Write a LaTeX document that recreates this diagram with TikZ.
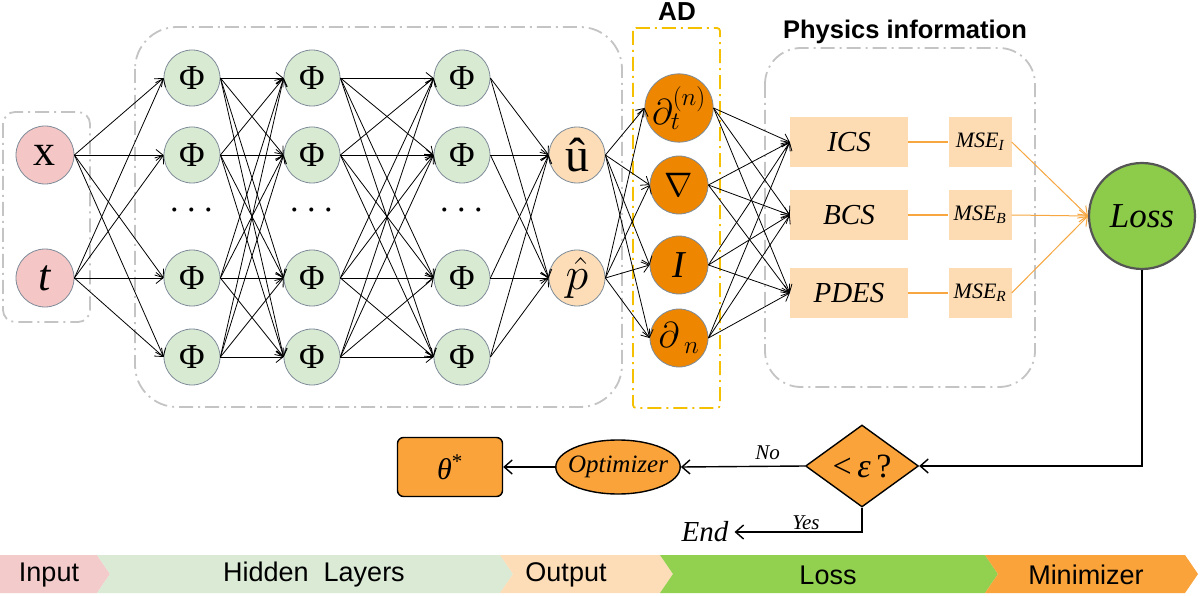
\RequirePackage{fix-cm}
\documentclass[tikz,border=0pt]{standalone}
\usepackage{fontspec}
\setmainfont{Liberation Serif}
\setsansfont{Liberation Sans}
\usetikzlibrary{arrows.meta,shapes.geometric}
\newcommand\fs[1]{\fontsize{#1}{#1}\selectfont}
\definecolor{inpink}{HTML}{F4C6C6}
\definecolor{hidgreen}{HTML}{D9EAD3}
\definecolor{outpeach}{HTML}{FCDDB7}
\definecolor{adorange}{HTML}{EE8600}
\definecolor{lossgreen}{HTML}{8DCB4A}
\definecolor{minorange}{HTML}{F9A33A}
\definecolor{boxgray}{HTML}{C4C4C4}
\definecolor{adyellow}{HTML}{F5C000}
\definecolor{physpeach}{HTML}{FDDCB4}
\definecolor{lineorange}{HTML}{F7A640}
\definecolor{barpink}{HTML}{F3CBCB}
\definecolor{bargreen}{HTML}{DAEAD5}
\definecolor{barpeach}{HTML}{FDDDB8}
\definecolor{barlgreen}{HTML}{92D050}
\definecolor{barorange}{HTML}{F9A33A}
\definecolor{nodeedge}{HTML}{7F8C99}
\begin{document}
\begin{tikzpicture}[x=1pt,y=-1pt,
  groupbox/.style={draw=boxgray, line width=1.8, dash pattern=on 14pt off 5pt on 2pt off 5pt},
  innode/.style={circle, draw=nodeedge, fill=inpink, minimum size=58, inner sep=0, line width=0.8, font=\fs{44}},
  phinode/.style={circle, draw=nodeedge, fill=hidgreen, minimum size=56, inner sep=0, line width=0.8, font=\fs{35}},
  outnode/.style={circle, draw=nodeedge, fill=outpeach, minimum size=56, inner sep=0, line width=0.8, font=\fs{34}},
  adnode/.style={circle, draw=nodeedge, fill=adorange, minimum size=58, inner sep=0, line width=0.8, font=\fs{30}},
  physbox/.style={fill=physpeach, minimum width=118, minimum height=50, inner sep=0, font=\fs{29}\itshape},
  msebox/.style={fill=physpeach, minimum width=63, minimum height=50, inner sep=0, font=\fs{22}\itshape},
  conn/.style={-{Straight Barb[length=7,width=11]}, line width=0.8},
  flow/.style={-{Straight Barb[length=8,width=14]}, line width=1.4},
  oline/.style={draw=lineorange, line width=1.6},
  oarrow/.style={draw=lineorange, line width=1, -{Straight Barb[length=8,width=12]}},
  barlabel/.style={font=\sffamily\fs{27}, inner sep=0}
]
\useasboundingbox[fill=white] (0,0) rectangle (1200,596);

% group boxes
\draw[groupbox, rounded corners=12] (3,112) rectangle (90,322);
\draw[groupbox, rounded corners=42] (135,27) rectangle (622,407);
\draw[draw=adyellow, line width=1.8, dash pattern=on 14pt off 5pt on 2pt off 5pt, rounded corners=3] (633,28) rectangle (720,408);
\draw[groupbox, rounded corners=36] (765,48) rectangle (1035,387);
\node[font=\sffamily\bfseries\fs{26}] (adlab) at (677,12) {AD};
\node[font=\sffamily\bfseries\fs{25.5}] (physlab) at (905,32) {Physics information};

% input nodes
\node[innode] (x) at (45,155) {x};
\node[innode, font=\fs{44}\itshape] (t) at (45,278) {t};

% hidden nodes
\foreach \c/\xx in {1/192,2/312,3/462}{
  \foreach \r/\yy in {1/78,2/155,3/278,4/357}{
    \node[phinode] (h\c\r) at (\xx,\yy) {Φ};
  }
  \node[font=\fs{38}] (dots\c) at (\xx,211) {$\cdots$};
}

% output nodes
\node[outnode, font=\fs{48}] (u) at (577,155) {û};
\node[outnode, font=\fs{46}] (p) at (577,278) {$\hat{p}$};

% AD nodes
\node[adnode, font=\fs{36}] (ad1) at (679,108) {$\partial_t^{(n)}$};
\node[adnode, font=\fs{34}] (ad2) at (679,185) {$\nabla$};
\node[adnode, font=\fs{38}\itshape] (ad3) at (679,265) {I};
\node[adnode, font=\fs{36}] (ad4) at (679,338) {$\partial_{\;n}$};

% physics boxes
\node[physbox] (ics) at (849,142) {ICS};
\node[physbox] (bcs) at (849,215) {BCS};
\node[physbox] (pdes) at (849,293) {PDES};
\node[msebox] (msei) at (980,142) {MSE\textsubscript{\itshape I}};
\node[msebox] (mseb) at (980,215) {MSE\textsubscript{\itshape B}};
\node[msebox] (mser) at (980,293) {MSE\textsubscript{\itshape R}};

% loss
\node[circle, minimum size=106, fill=lossgreen, draw={rgb,255:red,85;green,85;blue,85}, line width=2.2, inner sep=0, font=\fs{35}\itshape] (loss) at (1142,216) {Loss};

% edges
\foreach \r in {1,...,4}{
  \draw[conn] (x.east) -- (h1\r.west);
  \draw[conn] (t.east) -- (h1\r.west);
}
\foreach \a in {1,...,4}{
  \foreach \b in {1,...,4}{
    \draw[conn] (h1\a.east) -- (h2\b.west);
    \draw[conn] (h2\a.east) -- (h3\b.west);
  }
  \draw[conn] (h3\a.east) -- (u.west);
  \draw[conn] (h3\a.east) -- (p.west);
  \draw[conn] (u.east) -- (ad\a.west);
  \draw[conn] (p.east) -- (ad\a.west);
  \draw[conn] (ad\a.east) -- (ics.west);
  \draw[conn] (ad\a.east) -- (bcs.west);
  \draw[conn] (ad\a.east) -- (pdes.west);
}
\draw[oline] (ics.east) -- (msei.west);
\draw[oline] (bcs.east) -- (mseb.west);
\draw[oline] (pdes.east) -- (mser.west);
\draw[oarrow] (msei.east) -- (loss.west);
\draw[oarrow] (mseb.east) -- (loss.west);
\draw[oarrow] (mser.east) -- (loss.west);

% minimizer flow
\node[diamond, minimum width=113, minimum height=78, inner sep=0, fill=minorange, draw=black, line width=1.4, font=\fs{34}] (dia) at (862,466) {<\,{\itshape ε}\,?};
\node[ellipse, minimum height=54, inner xsep=-6pt, inner ysep=0, fill=minorange, draw=black, line width=1.4, font=\fs{25}\itshape] (opt) at (618,467) {Optimizer};
\node[rectangle, rounded corners=6, minimum width=105, minimum height=59, fill=minorange, draw=black, line width=1.4, font=\fs{30}] (theta) at (450,467) {{\itshape θ}\textsuperscript{*}};
\node[font=\fs{29}\itshape, inner sep=2] (end) at (705,532) {End};
\draw[flow] (loss.south) |- (dia.east);
\draw[flow] (dia.west) -- node[above, pos=0.3, font=\fs{21}\itshape, yshift=3] (nolab) {No} (opt.east);
\draw[flow] (opt.west) -- (theta.east);
\draw[flow] (dia.south) |- node[above, pos=0.72, font=\fs{21}\itshape, inner sep=2] (yeslab) {Yes} ([xshift=4]end.east);

% bottom bar
\fill[barpink] (0,555) -- (97,555) -- (110,574) -- (97,593) -- (0,593) -- cycle;
\fill[bargreen] (97,555) -- (500,555) -- (513,574) -- (500,593) -- (97,593) -- (110,574) -- cycle;
\fill[barpeach] (500,555) -- (660,555) -- (673,574) -- (660,593) -- (500,593) -- (513,574) -- cycle;
\fill[barlgreen] (660,555) -- (985,555) -- (998,574) -- (985,593) -- (660,593) -- (673,574) -- cycle;
\fill[barorange] (985,555) -- (1185,555) -- (1198,574) -- (1185,593) -- (985,593) -- (998,574) -- cycle;
\node[barlabel] (bin) at (49,575) {Input};
\node[barlabel] (bhid) at (314,575) {Hidden\ \ Layers};
\node[barlabel] (bout) at (566,575) {Output};
\node[barlabel] (bloss) at (828,575) {Loss};
\node[barlabel] (bmin) at (1086,575) {Minimizer};
\end{tikzpicture}
\end{document}
